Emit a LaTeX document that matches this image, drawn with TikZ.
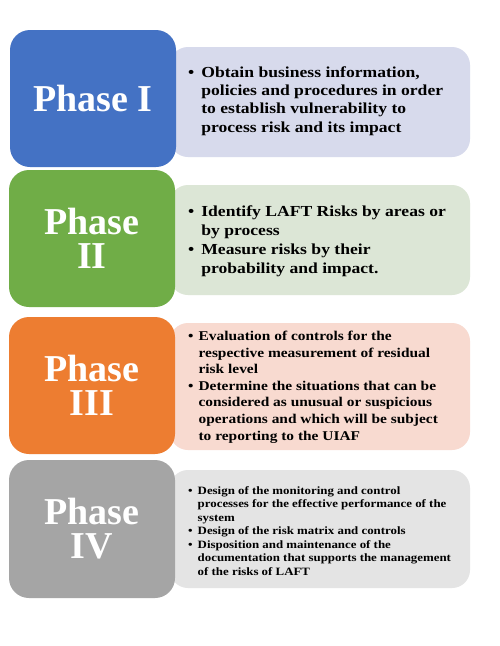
\documentclass[tikz,border=0pt]{standalone}
\usepackage{fontspec}
\setmainfont{Liberation Serif}
\newfontfamily\bodyfont{Liberation Serif}[FakeStretch=1.15]
\definecolor{c1}{HTML}{4472C4}\definecolor{l1}{HTML}{D7DAEC}
\definecolor{c2}{HTML}{70AD47}\definecolor{l2}{HTML}{DCE6D6}
\definecolor{c3}{HTML}{ED7D31}\definecolor{l3}{HTML}{F8DAD0}
\definecolor{c4}{HTML}{A5A5A5}\definecolor{l4}{HTML}{E4E4E4}
\tikzset{
  phasebox/.style={rounded corners=20pt, minimum width=166pt, inner sep=0pt,
    text=white, font=\fontsize{38}{34}\selectfont\bfseries, align=center},
  descbox/.style={rounded corners=18pt, minimum width=300pt, inner sep=0pt},
  desctext/.style={anchor=west, inner sep=0pt, align=left, text=black},
}
\newcommand{\bl}{\textbullet}
\begin{document}
\begin{tikzpicture}[x=1pt,y=-1pt]
\useasboundingbox (0,0) rectangle (500,646);
\fill[white] (0,0) rectangle (500,646);
% Phase I
\node[descbox, fill=l1, minimum height=110pt] (d1) at (320,102) {};
\node[phasebox, fill=c1, minimum height=137pt] (p1) at (93,98.5) {Phase I};
\node[desctext, font=\bodyfont\fontsize{15.3}{18.3}\selectfont\bfseries] (t1) at (188,101) {%
\begin{tabular}{@{}l@{\hspace{7pt}}l@{}}
\bl & Obtain business information,\\
 & policies and procedures in order\\
 & to establish vulnerability to\\
 & process risk and its impact
\end{tabular}};
% Phase II
\node[descbox, fill=l2, minimum height=110pt] (d2) at (320,240) {};
\node[phasebox, fill=c2, minimum height=137pt] (p2) at (92,238.5) {Phase\\II};
\node[desctext, font=\bodyfont\fontsize{15.3}{19}\selectfont\bfseries] (t2) at (188,241) {%
\begin{tabular}{@{}l@{\hspace{7pt}}l@{}}
\bl & Identify LAFT Risks by areas or\\
 & by process\\
\bl & Measure risks by their\\
 & probability and impact.
\end{tabular}};
% Phase III
\node[descbox, fill=l3, minimum height=127pt] (d3) at (320,386.5) {};
\node[phasebox, fill=c3, minimum height=137pt] (p3) at (92,385.5) {Phase\\III};
\node[desctext, font=\bodyfont\fontsize{13.4}{16.6}\selectfont\bfseries] (t3) at (188,387) {%
\begin{tabular}{@{}l@{\hspace{5pt}}l@{}}
\bl & Evaluation of controls for the\\
 & respective measurement of residual\\
 & risk level\\
\bl & Determine the situations that can be\\
 & considered as unusual or suspicious\\
 & operations and which will be subject\\
 & to reporting to the UIAF
\end{tabular}};
% Phase IV
\node[descbox, fill=l4, minimum height=118pt] (d4) at (320,529) {};
\node[phasebox, fill=c4, minimum height=138pt] (p4) at (92,529) {Phase\\IV};
\node[desctext, font=\bodyfont\fontsize{11.2}{13.5}\selectfont\bfseries] (t4) at (188,532) {%
\begin{tabular}{@{}l@{\hspace{5pt}}l@{}}
\bl & Design of the monitoring and control\\
 & processes for the effective performance of the\\
 & system\\
\bl & Design of the risk matrix and controls\\
\bl & Disposition and maintenance of the\\
 & documentation that supports the management\\
 & of the risks of LAFT
\end{tabular}};
\end{tikzpicture}
\end{document}
